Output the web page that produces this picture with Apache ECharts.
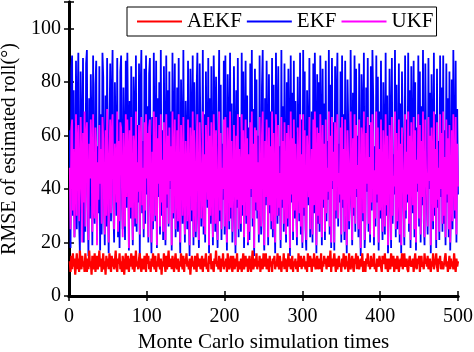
<!DOCTYPE html>
<html><head><meta charset="utf-8">
<script src="https://cdn.jsdelivr.net/npm/echarts@6/dist/echarts.min.js"></script>
<style>html,body{margin:0;padding:0;background:#fff}#c{width:474px;height:352px}</style>
</head><body><div id="c"></div>
<script>
const seriesNames = ['AEKF','EKF','UKF'];
const xTicks = [0,100,200,300,400,500];
const yTicks = [0,20,40,60,80,100];
const aekf = [
13,9,15,10,16,11,14,8,12,16,10,14,9,17,12,10,15,11,13,9,16,12,9,14,10,17,11,13,8,15,12,10,16,9,13,15,10,12,17,11,
14,9,12,16,10,13,8,15,11,14,10,16,12,9,15,11,14,10,13,17,11,9,14,12,16,10,13,9,15,12,8,13,16,10,12,15,9,14,11,16,
13,10,15,9,12,17,11,13,10,14,16,11,9,14,12,10,15,13,9,16,12,15,10,13,9,14,11,16,12,10,15,9,13,11,16,12,10,14,8,13,
11,16,12,9,15,10,13,17,11,12,14,10,15,12,9,13,16,11,10,14,9,13,11,16,12,10,15,9,14,12,16,11,13,10,14,8,12,15,11,13,
10,15,12,9,16,13,11,14,10,12,15,9,14,11,13,16,10,12,9,15,12,16,10,13,11,9,14,12,17,11,13,10,15,12,9,14,11,16,10,13,
11,14,9,16,12,10,13,15,11,9,15,12,10,14,11,16,9,13,12,10,14,9,13,16,10,12,15,11,14,9,12,15,11,9,13,17,10,12,14,11,
16,10,13,11,15,9,14,12,10,16,13,11,16,10,12,14,9,15,11,13,9,14,12,15,10,13,11,16,12,10,15,12,9,13,11,16,10,14,13,9,
12,16,11,14,10,12,15,9,13,11,14,10,13,9,16,11,12,15,10,14,11,15,12,10,13,9,16,12,11,15,13,9,14,11,16,12,10,13,15,10,
12,14,10,16,9,13,11,15,12,14,10,13,15,11,12,17,9,14,11,13,16,12,9,14,10,13,15,11,12,9,14,11,16,12,10,15,11,13,9,16,
12,10,13,15,11,9,14,12,16,10,15,13,10,12,14,11,16,9,13,12,9,14,12,16,11,13,10,15,12,11,13,16,10,12,9,14,12,11,15,13,
11,9,15,13,12,16,10,14,11,9,14,12,10,16,13,11,15,9,12,14,10,15,13,9,12,14,11,16,10,13,16,11,12,14,10,9,13,15,12,11,
12,14,9,13,16,11,10,14,12,15,9,13,15,11,12,10,16,12,14,11,15,10,12,14,9,13,11,16,10,12,13,16,11,9,14,12,15,10,13,11,
10,12,14,16,11,13,9,12,15,10,14,11,13,10,16,12,9,14,11,13];
const ekf = [
62,18,85,90,30,77,22,35,88,25,70,91,28,16,84,58,33,89,20,66,24,87,92,38,15,74,29,83,60,19,90,35,27,79,88,21,56,31,86,17,
68,23,91,82,36,19,75,26,89,40,16,63,87,28,72,92,34,20,80,57,30,89,22,66,18,84,90,37,25,78,54,21,88,33,91,60,17,73,29,86,
39,19,82,70,26,90,24,64,35,87,15,76,92,31,58,22,85,27,90,38,71,20,83,89,34,16,67,25,91,56,28,88,18,74,37,80,23,92,30,62,
21,86,55,19,90,33,77,26,84,40,69,17,91,29,63,87,22,36,78,24,89,32,16,81,59,27,92,38,20,73,57,25,88,35,15,85,66,28,90,19,
80,34,22,76,91,30,18,87,61,26,37,92,23,68,20,84,53,33,89,16,74,27,86,39,19,90,70,24,82,31,18,65,92,28,79,21,57,36,88,23,
90,38,17,83,62,25,91,29,72,20,35,86,54,16,77,33,89,22,67,40,24,91,30,84,18,58,88,27,75,19,63,21,87,37,92,26,70,15,85,32,
81,29,60,20,90,36,23,78,92,28,17,74,34,88,55,19,83,31,69,25,89,22,79,38,16,91,64,27,86,30,56,18,92,33,71,24,87,39,20,80,
26,85,61,15,90,35,76,21,88,29,73,37,19,82,53,28,91,23,66,18,92,30,84,25,17,77,60,34,89,22,38,69,20,87,31,91,56,16,83,27,
80,24,90,62,19,85,33,72,21,88,28,58,36,92,23,79,18,89,40,65,17,86,29,74,91,26,57,35,84,20,90,33,68,21,88,38,16,81,63,25,
35,92,55,19,76,30,90,24,85,37,60,22,87,34,15,83,70,28,91,18,27,78,39,89,24,64,20,86,32,92,74,19,56,26,90,35,82,17,69,29,
88,36,21,80,58,23,91,30,75,16,32,85,64,18,89,27,53,38,92,22,79,25,37,87,20,72,16,84,61,33,19,90,29,66,35,91,24,77,18,86,
57,31,88,22,80,17,63,39,90,26,84,20,71,34,92,28,19,87,55,36,23,89,40,76,16,83,60,25,91,30,68,18,85,33,58,21,90,37,78,24,
90,27,62,19,87,35,74,22,84,17,36,81,25,92,54,29,88,20,70,38];
const ukf = [
48,25,62,66,32,55,22,45,68,30,58,64,28,40,67,50,20,61,35,69,26,60,65,38,21,57,44,66,52,24,68,33,29,63,56,19,50,36,64,42,
55,27,67,59,34,23,62,30,70,46,20,53,66,31,60,68,38,25,57,49,35,69,24,58,28,65,63,41,22,61,47,26,68,37,66,52,18,62,33,67,
40,21,60,55,29,69,27,50,39,64,23,57,67,34,48,25,65,32,68,44,61,22,63,66,36,20,54,28,69,47,30,67,19,59,42,64,26,68,35,51,
24,65,46,21,68,38,60,27,63,43,56,19,69,31,50,66,25,40,62,28,68,35,20,64,49,30,67,41,23,58,45,28,66,38,19,63,55,32,69,22,
62,37,24,57,68,33,21,65,50,29,39,69,26,53,23,64,47,36,67,19,60,30,65,42,22,68,56,27,62,34,21,52,69,32,61,25,48,40,66,26,
67,41,20,63,51,28,69,33,58,24,37,64,46,19,60,36,68,25,55,43,27,68,34,62,22,49,66,30,59,20,53,24,65,40,69,29,57,18,63,35,
62,32,50,23,67,39,26,60,69,31,19,58,37,66,47,22,63,34,56,28,69,25,61,41,20,68,52,30,64,33,46,21,67,36,58,27,65,42,23,61,
29,64,51,18,69,38,59,24,66,32,57,40,22,63,45,31,68,26,53,20,68,33,62,28,21,60,49,37,67,25,41,55,23,66,34,69,47,19,63,30,
61,27,68,50,22,64,36,57,24,66,31,48,39,69,26,60,20,67,43,54,20,65,32,58,68,29,46,38,63,23,67,36,55,24,66,41,19,62,51,28,
38,69,45,21,59,33,68,27,64,40,49,25,66,37,18,63,57,31,69,21,30,61,42,67,27,52,23,65,35,68,58,22,47,29,69,38,63,20,55,32,
66,39,24,62,48,26,68,34,60,19,35,64,52,21,67,30,45,41,69,25,61,28,40,66,23,57,19,63,50,36,22,68,32,54,38,69,27,60,21,65,
46,34,67,25,62,20,51,42,68,29,64,23,58,37,69,31,22,66,47,39,26,67,43,60,19,63,50,28,69,33,55,21,65,36,48,24,68,40,61,27,
69,30,52,22,66,38,59,25,64,20,39,62,28,68,45,32,67,23,57,41];

const toPts = a => a.map((v,i)=>[i+1,v]);
const font = 'Liberation Serif';
const chart = echarts.init(document.getElementById('c'), null, {renderer:'canvas'});
const axLine = {show:true, lineStyle:{color:'#000', width:3}};
const tick = {show:true, inside:true, length:5, lineStyle:{color:'#000', width:1.5}};
chart.setOption({
  animation:false,
  backgroundColor:'#fff',
  grid:{left:69, right:16, top:2, bottom:56, containLabel:false, outerBoundsMode:'none'},
  legend:{
    data:seriesNames, left:127, top:7, orient:'horizontal',
    icon:'rect', itemWidth:45, itemHeight:2, itemGap:5,
    padding:[4,3,4,10], borderColor:'#000', borderWidth:1, backgroundColor:'#fff',
    textStyle:{fontFamily:font, fontSize:21, color:'#000', padding:[0,0,0,0]}
  },
  xAxis:[
    {type:'value', min:0, max:500, interval:100, position:'bottom',
     axisLine:axLine, axisTick:tick, splitLine:{show:false},
     axisLabel:{fontFamily:font, fontSize:20, color:'#000', margin:11},
     name:'Monte Carlo simulation times', nameLocation:'middle', nameGap:32,
     nameTextStyle:{fontFamily:font, fontSize:21, color:'#000'}},
    {type:'value', min:0, max:500, interval:100, position:'top',
     axisLine:axLine, axisTick:tick, splitLine:{show:false}, axisLabel:{show:false}}
  ],
  yAxis:[
    {type:'value', min:0, max:110, interval:20, position:'left',
     axisLine:axLine, axisTick:tick, splitLine:{show:false},
     axisLabel:{fontFamily:font, fontSize:20, color:'#000', margin:8,
       formatter:v=> yTicks.includes(v)? String(v):''},
     name:'RMSE of estimated roll(°)', nameLocation:'middle', nameGap:38, nameRotate:90,
     nameTextStyle:{fontFamily:font, fontSize:20, color:'#000'}},
    {type:'value', min:0, max:110, interval:20, position:'right',
     axisLine:axLine, axisTick:tick, splitLine:{show:false}, axisLabel:{show:false}}
  ],
  series:[
    {name:'EKF', type:'line', data:toPts(ekf), showSymbol:false, symbol:'none', z:2,
     lineStyle:{color:'#0000ff', width:1.8}, itemStyle:{color:'#0000ff'}},
    {name:'UKF', type:'line', data:toPts(ukf), showSymbol:false, symbol:'none', z:3,
     lineStyle:{color:'#ff00ff', width:1.8}, itemStyle:{color:'#ff00ff'}},
    {name:'AEKF', type:'line', data:toPts(aekf), showSymbol:false, symbol:'none', z:4,
     lineStyle:{color:'#ff0000', width:2.2}, itemStyle:{color:'#ff0000'}}
  ]
});
</script></body></html>
